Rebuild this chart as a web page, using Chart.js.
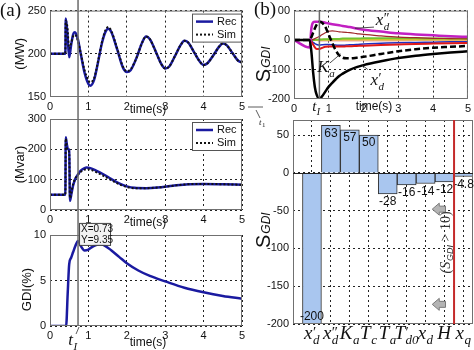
<!DOCTYPE html>
<html>
<head>
<meta charset="utf-8">
<script src="https://cdn.jsdelivr.net/npm/chart.js@4.4.1/dist/chart.umd.min.js"></script>
<style>
  body{ margin:0; background:#fff; }
  #wrap{ position:relative; width:474px; height:350px; overflow:hidden; background:#fff; }
  #wrap canvas{ position:absolute; left:0; top:0; }
</style>
</head>
<body>
<div id="wrap">
  <canvas id="cP" width="474" height="350"></canvas>
  <canvas id="cQ" width="474" height="350"></canvas>
  <canvas id="cG" width="474" height="350"></canvas>
  <canvas id="cS" width="474" height="350"></canvas>
  <canvas id="cB" width="474" height="350"></canvas>
</div>
<script>
// (a) 记录/仿真 + GDI, (b) 灵敏度
const tI = 0.73;
const xTicks = [0, 1, 2, 3, 4, 5];

// (a) top: MW
const tP   = [0,0.4,0.41,0.45,0.5,0.55,0.6,0.65,0.72,0.8,0.9,1.0,1.05,1.15,1.25,1.35,1.45,1.52,1.6,1.75,1.9,2.0,2.1,2.25,2.4,2.5,2.6,2.75,2.9,3.0,3.1,3.25,3.4,3.5,3.6,3.75,3.9,4.0,4.1,4.25,4.4,4.5,4.6,4.75,4.9,5.0];
const recP = [200,200,241,225,196,210,222,225,218,200,178,165,163,170,190,212,226,229,225,205,184,179,181,195,213,220,217,203,188,183,185,197,210,215,213,202,191,187,189,198,208,212,210,201,192,190];
const simP = [200,200,238,232,206,212,220,222,216,201,181,169,167,172,191,213,228,231,226,206,185,180,182,195,213,220,217,203,188,183,185,197,210,215,213,202,191,187,189,198,208,212,210,201,192,190];
const yTicksP = [150, 200, 250];

// (a) middle: Mvar
const tQ   = [0,0.4,0.41,0.44,0.47,0.5,0.52,0.56,0.6,0.65,0.7,0.8,0.9,0.95,1.05,1.2,1.4,1.6,1.8,2.0,2.2,2.5,2.8,3.2,3.6,4.0,4.5,5.0];
const recQ = [50,50,240,215,200,198,30,55,80,100,112,130,138,140,138,130,117,102,88,78,73,72,74,80,85,86,85,83];
const simQ = [50,50,235,205,195,190,40,60,85,102,112,126,133,135,133,125,112,98,85,76,72,72,74,80,85,86,85,83];
const yTicksQ = [0, 100, 200, 300];

// (a) bottom: GDI(%)
const tG  = [0,0.42,0.46,0.5,0.55,0.6,0.66,0.73,0.8,0.9,1.0,1.1,1.2,1.3,1.4,1.6,1.8,2.0,2.3,2.6,3.0,3.5,4.0,4.5,5.0];
const gdi = [0,0,3.5,6.8,7.5,8.1,8.8,9.35,8.8,8.3,8.4,8.7,8.9,9.0,8.9,8.3,7.6,6.9,6.1,5.5,4.9,4.2,3.7,3.3,3.0];
const yTicksG = [0, 5, 10];

// (b) top: S_GDI(t)
const tS    = [0,0.45,0.5,0.55,0.6,0.65,0.73,0.8,0.9,1.0,1.1,1.2,1.3,1.4,1.5,1.6,1.8,2.0,2.5,3.0,3.5,4.0,4.5,5.0];
const sXd1  = [0,0,-40,-110,-160,-185,-200,-192,-175,-158,-145,-133,-122,-114,-107,-101,-92,-85,-72,-61,-53,-47,-42,-38];
const sKa   = [0,0,10,25,40,52,62,60,45,18,-10,-35,-52,-60,-62,-62,-60,-57,-47,-38,-31,-26,-23,-20];
const sXd2  = [0,-25,40,60,62,62,62,61,59,56,54,52,50,48,46,44,39,35,29,23,19,16,13,11];
const sTc   = [0,0,0,2,5,8,12,18,25,30,31,30,28,27,26,25,22,19,14,10,8,6,5,4];
const sTa   = [0,0,-5,-15,-25,-30,-30,-27,-23,-22,-22,-22,-22,-22,-21,-21,-20,-19,-17,-15,-13,-12,-11,-10];
const sTd0  = [0,0,-3,-8,-12,-15,-17,-16,-15,-15,-16,-17,-18,-18,-17,-16,-15,-13,-11,-9,-8,-7,-6,-6];
const sXd   = [0,0,0,0,1,1,2,2,3,3,4,4,4,5,5,5,5,6,6,6,6,5,5,5];
const sH    = [0,0,0,0,0,1,1,1,1,1,2,2,2,2,2,2,2,2,2,2,2,2,2,2];
const sXq   = [0,0,0,0,-1,-1,-2,-2,-2,-2,-2,-2,-2,-2,-2,-2,-2,-2,-2,-2,-1,-1,-1,-1];
const yTicksS = [-200, -100, 0, 100];

// (b) bottom: S_GDI at t_I
const catMain  = ['x', 'x', 'K', 'T', 'T', 'T', 'x', 'H', 'x'];
const catPrime = ['′', '″', '', '', '', '′', '', '', ''];
const catSub   = ['d', 'd', 'a', 'c', 'a', 'd0', 'd', '', 'q'];
const sAtTI    = [-200, 63, 57, 50, -28, -16, -14, -12, -4.8];
const yTicksB  = [-200, -150, -100, -50, 0, 50];

const W = 474, H = 350;
const FONT = "'Liberation Sans', Arial, sans-serif";
const SERIF = "'Liberation Serif', 'Times New Roman', serif";

Chart.defaults.animation = false;
Chart.defaults.events = [];
Chart.defaults.font.family = FONT;
Chart.defaults.plugins.legend.display = false;
Chart.defaults.plugins.tooltip.enabled = false;

function pts(ts, vs){ return ts.map((t, i) => ({ x: t, y: vs[i] })); }

function place(l, t, r, b, yW, xH){
  return { autoPadding: false, padding: { left: l - yW, top: t, right: W - r, bottom: H - b - xH } };
}

function axis(min, max, tickVals, side, size, fmt){
  return {
    type: 'linear', min, max, offset: false,
    afterBuildTicks: s => { s.ticks = tickVals.map(v => ({ value: v })); },
    afterFit: s => { if (side === 'x') s.height = size; else s.width = size; },
    grid: { color: '#222', lineWidth: 1, drawTicks: false, offset: false },
    border: { display: false, dash: [2, 3] },
    ticks: { color: '#111', font: { size: 11 }, padding: side === 'x' ? 3 : 4, maxRotation: 0,
             autoSkip: false, callback: fmt || (v => v) }
  };
}

const frame = {
  id: 'frame',
  afterDraw(c){
    const a = c.chartArea, g = c.ctx;
    g.save();
    g.strokeStyle = '#707070'; g.lineWidth = 1;
    g.strokeRect(a.left + 0.5, a.top + 0.5, a.right - a.left - 1, a.bottom - a.top - 1);
    g.restore();
  }
};
Chart.register(frame);

function lineDs(data, color, width, dash){
  return { data, borderColor: color, borderWidth: width, borderDash: dash || [],
           pointRadius: 0, cubicInterpolationMode: 'monotone', fill: false };
}

function vText(g, txt, x, y, font){
  g.save(); g.translate(x, y); g.rotate(-Math.PI / 2);
  g.font = font; g.fillStyle = '#111'; g.textAlign = 'center'; g.textBaseline = 'middle';
  g.fillText(txt, 0, 0); g.restore();
}

// S with italic GDI subscript, rotated
function sGdiTitle(g, x, y){
  g.save(); g.translate(x, y); g.rotate(-Math.PI / 2);
  g.fillStyle = '#111'; g.textBaseline = 'alphabetic'; g.textAlign = 'left';
  g.font = `20px ${FONT}`; const w1 = g.measureText('S').width;
  g.font = `italic 12px ${FONT}`; const w2 = g.measureText('GDI').width;
  const x0 = -(w1 + w2) / 2;
  g.font = `20px ${FONT}`; g.fillText('S', x0, 7);
  g.font = `italic 12px ${FONT}`; g.fillText('GDI', x0 + w1 + 1, 7);
  g.restore();
}

function mathLabel(g, x, y, main, prime, sub, size, align){
  const fm = `italic ${size}px ${SERIF}`;
  const fp = `${Math.round(size * 0.8)}px ${SERIF}`;
  const fs = `italic ${Math.round(size * 0.66)}px ${SERIF}`;
  g.font = fm; const wm = g.measureText(main).width;
  g.font = fp; const wp = prime ? g.measureText(prime).width : 0;
  g.font = fs; const ws = sub ? g.measureText(sub).width : 0;
  const w = wm + Math.max(wp, ws) + 1;
  const x0 = align === 'center' ? x - w / 2 : x;
  g.fillStyle = '#111'; g.textAlign = 'left'; g.textBaseline = 'alphabetic';
  g.font = fm; g.fillText(main, x0, y);
  if (prime){ g.font = fp; g.fillText(prime, x0 + wm + 0.5, y - size * 0.12); }
  if (sub){ g.font = fs; g.fillText(sub, x0 + wm + 0.5, y + size * 0.28); }
}

function legendBox(c){
  const a = c.chartArea, g = c.ctx;
  const bx = a.right - 50, by = a.top + 3, bw = 50, bh = 29;
  g.save();
  g.fillStyle = '#fff'; g.fillRect(bx, by, bw, bh);
  g.strokeStyle = '#555'; g.lineWidth = 1; g.strokeRect(bx + 0.5, by + 0.5, bw - 1, bh - 1);
  g.lineWidth = 2.5; g.strokeStyle = '#1a1aa0';
  g.beginPath(); g.moveTo(bx + 4, by + 8); g.lineTo(bx + 21, by + 8); g.stroke();
  g.lineWidth = 2; g.strokeStyle = '#111'; g.setLineDash([2, 2]);
  g.beginPath(); g.moveTo(bx + 4, by + 21); g.lineTo(bx + 21, by + 21); g.stroke();
  g.setLineDash([]);
  g.fillStyle = '#111'; g.font = `11px ${FONT}`; g.textBaseline = 'middle'; g.textAlign = 'left';
  g.fillText('Rec', bx + 25, by + 8);
  g.fillText('Sim', bx + 25, by + 21);
  g.restore();
}

function timeLabel(c, dy){
  const a = c.chartArea, g = c.ctx;
  g.save(); g.fillStyle = '#111'; g.font = `12px ${FONT}`;
  g.textAlign = 'center'; g.textBaseline = 'middle';
  g.fillText('time(s)', (a.left + a.right) / 2 + 2, a.bottom + dy);
  g.restore();
}

function panelA(id, ts, rec, sim, ymin, ymax, yt, area, title, titleDy){
  new Chart(document.getElementById(id), {
    type: 'line',
    data: { datasets: sim
      ? [ lineDs(pts(ts, sim), '#111', 2, [2, 2]), lineDs(pts(ts, rec), '#1a1aa0', 2.5) ]
      : [ lineDs(pts(ts, rec), '#1a1aa0', 2.5) ] },
    options: {
      responsive: false,
      layout: place(area[0], area[1], area[2], area[3], 40, 14),
      scales: { x: axis(0, 5, xTicks, 'x', 14), y: axis(ymin, ymax, yt, 'y', 40) }
    },
    plugins: [{
      id: 'deco_' + id,
      afterDraw(c){
        const a = c.chartArea;
        if (sim) legendBox(c);
        vText(c.ctx, title, a.left - 30 + (sim ? 0 : 7), (a.top + a.bottom) / 2 + titleDy, `13px ${FONT}`);
        timeLabel(c, sim ? 13 : 17);
      }
    }]
  });
}

panelA('cP', tP, recP, simP, 150, 250, yTicksP, [50, 5, 242, 97], '(MW)', 0);
panelA('cQ', tQ, recQ, simQ, 0, 300, yTicksQ, [50, 119, 242, 210], '(Mvar)', 0);

// GDI panel with datatip, t_I line across column (a)
new Chart(document.getElementById('cG'), {
  type: 'line',
  data: { datasets: [ lineDs(pts(tG, gdi), '#1a1aa0', 2.5) ] },
  options: {
    responsive: false,
    layout: place(50, 235, 242, 326, 40, 14),
    scales: { x: axis(0, 5, xTicks, 'x', 14), y: axis(0, 10, yTicksG, 'y', 40) }
  },
  plugins: [{
    id: 'decoG',
    afterDraw(c){
      const a = c.chartArea, g = c.ctx, xs = c.scales.x, ys = c.scales.y;
      vText(g, 'GDI(%)', a.left - 23, (a.top + a.bottom) / 2 + 9, `13px ${FONT}`);
      timeLabel(c, 17);
      const px = xs.getPixelForValue(tI);
      g.save();
      g.strokeStyle = '#6a6a6a'; g.lineWidth = 1.5;
      g.beginPath(); g.moveTo(px, 0); g.lineTo(px, a.bottom); g.stroke();
      // datatip
      const i = tG.indexOf(tI), py = ys.getPixelForValue(gdi[i]);
      g.fillStyle = '#f2f2f2'; g.fillRect(px + 1, py - 18, 31, 22);
      g.strokeStyle = '#444'; g.lineWidth = 1; g.strokeRect(px + 1.5, py - 17.5, 31, 22);
      g.fillStyle = '#111'; g.font = `10px ${FONT}`; g.textAlign = 'left'; g.textBaseline = 'middle';
      g.fillText('X=' + tI, px + 3, py - 12);
      g.fillText('Y=' + gdi[i], px + 3, py - 1);
      // t_I label with pointer
      mathLabel(g, px - 5, a.bottom + 19, 't', '', 'I', 17, 'center');
      g.strokeStyle = '#333'; g.lineWidth = 0.8;
      g.beginPath(); g.moveTo(px - 2, a.bottom + 8); g.lineTo(px + 1, a.bottom + 1); g.stroke();
      g.restore();
    }
  }]
});

// (b) top: S_GDI vs time
const sensCurves = [
  [sXd1, '#000', 2.5, []],
  [sKa, '#000', 2.5, [6, 3]],
  [sXd2, '#c21fc2', 2.5, []],
  [sTc, '#a0282a', 1.2, []],
  [sTa, '#e01818', 2, []],
  [sTd0, '#2030c0', 1.5, []],
  [sXd, '#72c232', 2, []],
  [sH, '#e8c830', 2, []],
  [sXq, '#f0a0a0', 1.5, []]
];
new Chart(document.getElementById('cS'), {
  type: 'line',
  data: { datasets: sensCurves.map(s => lineDs(pts(tS, s[0]), s[1], s[2], s[3])) },
  options: {
    responsive: false,
    layout: place(294, 3, 473, 99, 40, 14),
    scales: {
      x: axis(0, 5, xTicks, 'x', 14),
      y: axis(-200, 100, yTicksS, 'y', 40, v => v === 100 ? '00' : v)
    }
  },
  plugins: [{
    id: 'decoS',
    afterDraw(c){
      const a = c.chartArea, g = c.ctx, xs = c.scales.x, ys = c.scales.y;
      const X = v => xs.getPixelForValue(v), Y = v => ys.getPixelForValue(v);
      g.save();
      g.strokeStyle = '#6a6a6a'; g.lineWidth = 1.5;
      g.beginPath(); g.moveTo(X(tI), a.top); g.lineTo(X(tI), a.bottom); g.stroke();
      // pointer lines
      g.strokeStyle = '#222'; g.lineWidth = 0.8;
      [[2.3, 44, 1.75, 40], [1.03, -78, 1.34, -47], [2.12, -100, 1.95, -84]].forEach(p => {
        g.beginPath(); g.moveTo(X(p[0]), Y(p[1])); g.lineTo(X(p[2]), Y(p[3])); g.stroke();
      });
      mathLabel(g, X(2.35), Y(52), 'x', '″', 'd', 17, 'left');
      mathLabel(g, X(0.67), Y(-110), 'K', '', 'a', 17, 'left');
      mathLabel(g, X(2.2), Y(-152), 'x', '′', 'd', 17, 'left');
      mathLabel(g, X(tI) - 3, a.bottom + 12, 't', '', 'I', 15, 'center');
      g.fillStyle = '#111'; g.font = `12px ${FONT}`; g.textAlign = 'center'; g.textBaseline = 'middle';
      g.fillText('time(s)', X(2.3), a.bottom + 8);
      sGdiTitle(g, a.left - 31, (a.top + a.bottom) / 2 + 10);
      g.fillStyle = '#111'; g.font = `19px ${SERIF}`; g.textAlign = 'left'; g.textBaseline = 'top';
      g.fillText('(b)', a.left - 40, 1);
      g.restore();
    }
  }]
});

// (b) bottom: bars at t_I
const barPos = sAtTI.map((_, i) => i + 1);
new Chart(document.getElementById('cB'), {
  type: 'bar',
  data: { datasets: [{
    data: pts(barPos, sAtTI),
    backgroundColor: '#a9c6ef', borderColor: '#333', borderWidth: 1,
    barPercentage: 1, categoryPercentage: 1
  }]},
  options: {
    responsive: false,
    layout: place(293, 120, 473, 324, 40, 20),
    scales: {
      x: axis(0, 9.5, barPos, 'x', 20, () => ''),
      y: axis(-200, 70, yTicksB, 'y', 40)
    }
  },
  plugins: [{
    id: 'decoB',
    afterDraw(c){
      const a = c.chartArea, g = c.ctx, xs = c.scales.x, ys = c.scales.y;
      const X = v => xs.getPixelForValue(v), Y = v => ys.getPixelForValue(v);
      g.save();
      // zero line
      g.strokeStyle = '#222'; g.lineWidth = 1;
      g.beginPath(); g.moveTo(a.left, Math.round(Y(0)) + 0.5); g.lineTo(a.right, Math.round(Y(0)) + 0.5); g.stroke();
      // value labels
      const bars = c.getDatasetMeta(0).data;
      g.fillStyle = '#111'; g.font = `12px ${FONT}`; g.textAlign = 'center';
      bars.forEach((b, i) => {
        const v = sAtTI[i];
        if (b.y + 14 > a.bottom){ g.textBaseline = 'bottom'; g.fillText(v, b.x, b.y - 1); }
        else { g.textBaseline = 'top'; g.fillText(v, b.x, b.y + 2); }
      });
      // category labels
      barPos.forEach((p, i) => mathLabel(g, X(p), a.bottom + 15, catMain[i], catPrime[i], catSub[i], 19, 'center'));
      // threshold line between H and x_q
      g.strokeStyle = '#c42a2a'; g.lineWidth = 2;
      g.beginPath(); g.moveTo(X(8.5), a.top); g.lineTo(X(8.5), a.bottom); g.stroke();
      // grey arrows
      g.fillStyle = '#b4b4b4'; g.strokeStyle = '#7a7a7a'; g.lineWidth = 1;
      [-48, -174].forEach(v => {
        const y = Y(v), x0 = X(7.35), x1 = X(8.05);
        g.beginPath();
        g.moveTo(x0, y); g.lineTo(x0 + 7, y - 6); g.lineTo(x0 + 7, y - 3); g.lineTo(x1, y - 3);
        g.lineTo(x1, y + 3); g.lineTo(x0 + 7, y + 3); g.lineTo(x0 + 7, y + 6); g.closePath();
        g.fill(); g.stroke();
      });
      // (S_GDI > 10)
      g.translate(X(8.08), Y(-92)); g.rotate(-Math.PI / 2);
      g.fillStyle = '#333'; g.textBaseline = 'middle'; g.textAlign = 'left';
      g.font = `14px ${SERIF}`; const w1 = g.measureText('(S').width;
      g.font = `italic 9px ${FONT}`; const w2 = g.measureText('GDI').width;
      g.font = `14px ${SERIF}`; const w3 = g.measureText(' > 10)').width;
      const x0 = -(w1 + w2 + w3) / 2;
      g.font = `italic 14px ${SERIF}`; g.fillText('(S', x0, 0);
      g.font = `italic 9px ${FONT}`; g.fillText('GDI', x0 + w1, 4);
      g.font = `14px ${SERIF}`; g.fillText(' > 10)', x0 + w1 + w2, 0);
      g.restore();
      g.save();
      sGdiTitle(g, a.left - 30, Y(-50) + 20);
      // t_1 marker
      g.strokeStyle = '#333'; g.lineWidth = 0.8;
      g.beginPath(); g.moveTo(a.left - 45, a.top - 13); g.lineTo(a.left - 30, a.top - 13); g.stroke();
      g.beginPath(); g.moveTo(a.left - 37, a.top - 10); g.lineTo(a.left - 33, a.top - 2); g.stroke();
      g.fillStyle = '#222'; g.font = `italic 9px ${SERIF}`; g.textAlign = 'left'; g.textBaseline = 'middle';
      g.fillText('t', a.left - 34, a.top + 3);
      g.font = `7px ${SERIF}`; g.fillText('1', a.left - 31, a.top + 5);
      g.restore();
    }
  }]
});

// panel tag (a)
(function(){
  const g = document.getElementById('cP').getContext('2d');
  g.save(); g.fillStyle = '#111'; g.font = `19px ${SERIF}`; g.textBaseline = 'top';
  g.fillText('(a)', 0, 2); g.restore();
})();
</script>
</body>
</html>
